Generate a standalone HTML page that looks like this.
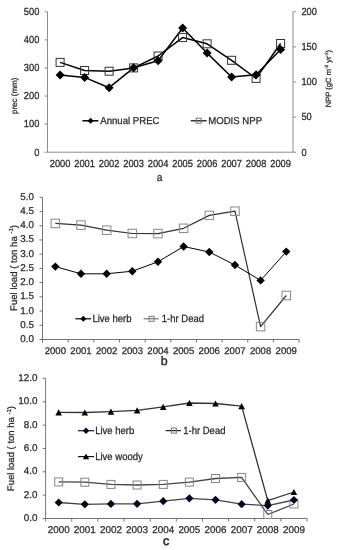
<!DOCTYPE html>
<html><head><meta charset="utf-8"><title>Fuel load and precipitation charts</title>
<style>
html,body{margin:0;padding:0;background:#fff;}
body{width:338px;height:550px;overflow:hidden;}
svg{display:block;font-family:"Liberation Sans", Arial, sans-serif;text-rendering:geometricPrecision;}
text{stroke:#2a2a2a;stroke-width:0.25px;}
</style></head>
<body>
<svg width="338" height="550" viewBox="0 0 338 550">
<rect width="338" height="550" fill="#fff"/>
<path d="M47.5 11.8V152.2" stroke="#8c8c8c" stroke-width="1"/>
<path d="M293 11.8V152.2" stroke="#8c8c8c" stroke-width="1"/>
<path d="M47.5 152.2H293" stroke="#8c8c8c" stroke-width="1"/>
<path d="M44.5 152.2H47.5" stroke="#8c8c8c" stroke-width="1"/>
<text transform="translate(39.3 155.5) scale(1 1.1)" font-size="9.3" text-anchor="end" fill="#2a2a2a">0</text>
<path d="M44.5 124.12H47.5" stroke="#8c8c8c" stroke-width="1"/>
<text transform="translate(39.3 127.42) scale(1 1.1)" font-size="9.3" text-anchor="end" fill="#2a2a2a">100</text>
<path d="M44.5 96.04H47.5" stroke="#8c8c8c" stroke-width="1"/>
<text transform="translate(39.3 99.34) scale(1 1.1)" font-size="9.3" text-anchor="end" fill="#2a2a2a">200</text>
<path d="M44.5 67.96H47.5" stroke="#8c8c8c" stroke-width="1"/>
<text transform="translate(39.3 71.26) scale(1 1.1)" font-size="9.3" text-anchor="end" fill="#2a2a2a">300</text>
<path d="M44.5 39.88H47.5" stroke="#8c8c8c" stroke-width="1"/>
<text transform="translate(39.3 43.18) scale(1 1.1)" font-size="9.3" text-anchor="end" fill="#2a2a2a">400</text>
<path d="M44.5 11.8H47.5" stroke="#8c8c8c" stroke-width="1"/>
<text transform="translate(39.3 15.1) scale(1 1.1)" font-size="9.3" text-anchor="end" fill="#2a2a2a">500</text>
<path d="M293 152.2H296" stroke="#8c8c8c" stroke-width="1"/>
<text transform="translate(301.4 155.5) scale(1 1.1)" font-size="9.3" fill="#2a2a2a">0</text>
<path d="M293 117.1H296" stroke="#8c8c8c" stroke-width="1"/>
<text transform="translate(301.4 120.4) scale(1 1.1)" font-size="9.3" fill="#2a2a2a">50</text>
<path d="M293 82H296" stroke="#8c8c8c" stroke-width="1"/>
<text transform="translate(301.4 85.3) scale(1 1.1)" font-size="9.3" fill="#2a2a2a">100</text>
<path d="M293 46.9H296" stroke="#8c8c8c" stroke-width="1"/>
<text transform="translate(301.4 50.2) scale(1 1.1)" font-size="9.3" fill="#2a2a2a">150</text>
<path d="M293 11.8H296" stroke="#8c8c8c" stroke-width="1"/>
<text transform="translate(301.4 15.1) scale(1 1.1)" font-size="9.3" fill="#2a2a2a">200</text>
<text transform="translate(60.1 166.6) scale(1 1.1)" font-size="9.3" text-anchor="middle" fill="#2a2a2a">2000</text>
<text transform="translate(84.6 166.6) scale(1 1.1)" font-size="9.3" text-anchor="middle" fill="#2a2a2a">2001</text>
<text transform="translate(109.1 166.6) scale(1 1.1)" font-size="9.3" text-anchor="middle" fill="#2a2a2a">2002</text>
<text transform="translate(133.6 166.6) scale(1 1.1)" font-size="9.3" text-anchor="middle" fill="#2a2a2a">2003</text>
<text transform="translate(158.1 166.6) scale(1 1.1)" font-size="9.3" text-anchor="middle" fill="#2a2a2a">2004</text>
<text transform="translate(182.6 166.6) scale(1 1.1)" font-size="9.3" text-anchor="middle" fill="#2a2a2a">2005</text>
<text transform="translate(207.1 166.6) scale(1 1.1)" font-size="9.3" text-anchor="middle" fill="#2a2a2a">2006</text>
<text transform="translate(231.6 166.6) scale(1 1.1)" font-size="9.3" text-anchor="middle" fill="#2a2a2a">2007</text>
<text transform="translate(256.1 166.6) scale(1 1.1)" font-size="9.3" text-anchor="middle" fill="#2a2a2a">2008</text>
<text transform="translate(280.6 166.6) scale(1 1.1)" font-size="9.3" text-anchor="middle" fill="#2a2a2a">2009</text>
<text transform="translate(159.6 181) scale(1 1.1)" font-size="10.2" text-anchor="middle" fill="#2a2a2a">a</text>
<text transform="translate(17 95.8) rotate(-90)" font-size="8" text-anchor="middle" fill="#2a2a2a">prec (mm)</text>
<text transform="translate(330.8 78.6) rotate(-90)" font-size="7.6" text-anchor="middle" fill="#2a2a2a">NPP (gC m<tspan font-size="4.6" dy="-2.8">-2</tspan><tspan dy="2.8"> yr</tspan><tspan font-size="4.6" dy="-2.8">-1</tspan><tspan dy="2.8">)</tspan></text>
<polyline points="60.1,62.4 84.6,70.5 109.1,71.2 133.6,67.9 158.1,56 182.6,37.6 207.1,43.8 231.6,60.3 256.1,78.4 280.6,43.5" fill="none" stroke="#000" stroke-width="1.5" stroke-linejoin="round"/>
<polyline points="60.1,74.9 84.6,77.4 109.1,87.7 133.6,67.8 158.1,60.8 182.6,28 207.1,53.1 231.6,77 256.1,74.8 280.6,49.5" fill="none" stroke="#000" stroke-width="1.5" stroke-linejoin="round"/>
<rect x="56.1" y="58.4" width="8" height="8" fill="none" stroke="#333" stroke-width="1"/>
<rect x="80.6" y="66.5" width="8" height="8" fill="none" stroke="#333" stroke-width="1"/>
<rect x="105.1" y="67.2" width="8" height="8" fill="none" stroke="#333" stroke-width="1"/>
<rect x="129.6" y="63.9" width="8" height="8" fill="none" stroke="#333" stroke-width="1"/>
<rect x="154.1" y="52" width="8" height="8" fill="none" stroke="#333" stroke-width="1"/>
<rect x="178.6" y="33.6" width="8" height="8" fill="none" stroke="#333" stroke-width="1"/>
<rect x="203.1" y="39.8" width="8" height="8" fill="none" stroke="#333" stroke-width="1"/>
<rect x="227.6" y="56.3" width="8" height="8" fill="none" stroke="#333" stroke-width="1"/>
<rect x="252.1" y="74.4" width="8" height="8" fill="none" stroke="#333" stroke-width="1"/>
<rect x="276.6" y="39.5" width="8" height="8" fill="none" stroke="#333" stroke-width="1"/>
<path d="M60.1 70.4L64.6 74.9L60.1 79.4L55.6 74.9Z" fill="#000"/>
<path d="M84.6 72.9L89.1 77.4L84.6 81.9L80.1 77.4Z" fill="#000"/>
<path d="M109.1 83.2L113.6 87.7L109.1 92.2L104.6 87.7Z" fill="#000"/>
<path d="M133.6 63.3L138.1 67.8L133.6 72.3L129.1 67.8Z" fill="#000"/>
<path d="M158.1 56.3L162.6 60.8L158.1 65.3L153.6 60.8Z" fill="#000"/>
<path d="M182.6 23.5L187.1 28L182.6 32.5L178.1 28Z" fill="#000"/>
<path d="M207.1 48.6L211.6 53.1L207.1 57.6L202.6 53.1Z" fill="#000"/>
<path d="M231.6 72.5L236.1 77L231.6 81.5L227.1 77Z" fill="#000"/>
<path d="M256.1 70.3L260.6 74.8L256.1 79.3L251.6 74.8Z" fill="#000"/>
<path d="M280.6 45L285.1 49.5L280.6 54L276.1 49.5Z" fill="#000"/>
<path d="M82.4 120.8H98.4" stroke="#000" stroke-width="1.5"/>
<path d="M90.6 117.8L93.6 120.8L90.6 123.8L87.6 120.8Z" fill="#000"/>
<text transform="translate(100.3 123.9) scale(1 1.04)" font-size="9.6" fill="#2a2a2a">Annual PREC</text>
<path d="M190.8 120.8H206.7" stroke="#000" stroke-width="1.2"/>
<rect x="196.2" y="118.2" width="5" height="5" fill="none" stroke="#777" stroke-width="1"/>
<text transform="translate(208.2 123.9) scale(1 1.04)" font-size="9.6" fill="#2a2a2a">MODIS NPP</text>
<path d="M42.5 197.3V339.5" stroke="#737373" stroke-width="1"/>
<path d="M42.5 339.5H299.1" stroke="#737373" stroke-width="1"/>
<path d="M39.5 339.5H42.5" stroke="#737373" stroke-width="1"/>
<text x="34" y="342" font-size="9.9" text-anchor="end" fill="#2a2a2a">0.0</text>
<path d="M39.5 325.28H42.5" stroke="#737373" stroke-width="1"/>
<text x="34" y="327.78" font-size="9.9" text-anchor="end" fill="#2a2a2a">0.5</text>
<path d="M39.5 311.06H42.5" stroke="#737373" stroke-width="1"/>
<text x="34" y="313.56" font-size="9.9" text-anchor="end" fill="#2a2a2a">1.0</text>
<path d="M39.5 296.84H42.5" stroke="#737373" stroke-width="1"/>
<text x="34" y="299.34" font-size="9.9" text-anchor="end" fill="#2a2a2a">1.5</text>
<path d="M39.5 282.62H42.5" stroke="#737373" stroke-width="1"/>
<text x="34" y="285.12" font-size="9.9" text-anchor="end" fill="#2a2a2a">2.0</text>
<path d="M39.5 268.4H42.5" stroke="#737373" stroke-width="1"/>
<text x="34" y="270.9" font-size="9.9" text-anchor="end" fill="#2a2a2a">2.5</text>
<path d="M39.5 254.18H42.5" stroke="#737373" stroke-width="1"/>
<text x="34" y="256.68" font-size="9.9" text-anchor="end" fill="#2a2a2a">3.0</text>
<path d="M39.5 239.96H42.5" stroke="#737373" stroke-width="1"/>
<text x="34" y="242.46" font-size="9.9" text-anchor="end" fill="#2a2a2a">3.5</text>
<path d="M39.5 225.74H42.5" stroke="#737373" stroke-width="1"/>
<text x="34" y="228.24" font-size="9.9" text-anchor="end" fill="#2a2a2a">4.0</text>
<path d="M39.5 211.52H42.5" stroke="#737373" stroke-width="1"/>
<text x="34" y="214.02" font-size="9.9" text-anchor="end" fill="#2a2a2a">4.5</text>
<path d="M39.5 197.3H42.5" stroke="#737373" stroke-width="1"/>
<text x="34" y="199.8" font-size="9.9" text-anchor="end" fill="#2a2a2a">5.0</text>
<path d="M42.5 339.5V342.5" stroke="#737373" stroke-width="1"/>
<path d="M68.16 339.5V342.5" stroke="#737373" stroke-width="1"/>
<path d="M93.82 339.5V342.5" stroke="#737373" stroke-width="1"/>
<path d="M119.48 339.5V342.5" stroke="#737373" stroke-width="1"/>
<path d="M145.14 339.5V342.5" stroke="#737373" stroke-width="1"/>
<path d="M170.8 339.5V342.5" stroke="#737373" stroke-width="1"/>
<path d="M196.46 339.5V342.5" stroke="#737373" stroke-width="1"/>
<path d="M222.12 339.5V342.5" stroke="#737373" stroke-width="1"/>
<path d="M247.78 339.5V342.5" stroke="#737373" stroke-width="1"/>
<path d="M273.44 339.5V342.5" stroke="#737373" stroke-width="1"/>
<path d="M299.1 339.5V342.5" stroke="#737373" stroke-width="1"/>
<text x="55.33" y="353.8" font-size="9.6" text-anchor="middle" fill="#2a2a2a">2000</text>
<text x="80.99" y="353.8" font-size="9.6" text-anchor="middle" fill="#2a2a2a">2001</text>
<text x="106.65" y="353.8" font-size="9.6" text-anchor="middle" fill="#2a2a2a">2002</text>
<text x="132.31" y="353.8" font-size="9.6" text-anchor="middle" fill="#2a2a2a">2003</text>
<text x="157.97" y="353.8" font-size="9.6" text-anchor="middle" fill="#2a2a2a">2004</text>
<text x="183.63" y="353.8" font-size="9.6" text-anchor="middle" fill="#2a2a2a">2005</text>
<text x="209.29" y="353.8" font-size="9.6" text-anchor="middle" fill="#2a2a2a">2006</text>
<text x="234.95" y="353.8" font-size="9.6" text-anchor="middle" fill="#2a2a2a">2007</text>
<text x="260.61" y="353.8" font-size="9.6" text-anchor="middle" fill="#2a2a2a">2008</text>
<text x="286.27" y="353.8" font-size="9.6" text-anchor="middle" fill="#2a2a2a">2009</text>
<text x="164.3" y="364.6" font-size="12.4" text-anchor="middle" fill="#2a2a2a" style="stroke-width:0.4px">b</text>
<text transform="translate(16.6 268) rotate(-90)" font-size="9.6" text-anchor="middle" fill="#2a2a2a">Fuel load ( ton ha <tspan font-size="6" dy="-3.5">-1</tspan><tspan dy="3.5">)</tspan></text>
<polyline points="55.33,223.4 80.99,225.1 106.65,230.2 132.31,233.5 157.97,233.6 183.63,228.3 209.29,215.4 234.95,211.2 260.61,326.6 286.27,295.5" fill="none" stroke="#333" stroke-width="1.2" stroke-linejoin="round"/>
<polyline points="55.33,266.6 80.99,273.8 106.65,273.8 132.31,271.2 157.97,261.8 183.63,246.5 209.29,252 234.95,265 260.61,280.4 286.27,251.6" fill="none" stroke="#000" stroke-width="1" stroke-linejoin="round"/>
<rect x="51.08" y="219.15" width="8.5" height="8.5" fill="none" stroke="#888" stroke-width="1"/>
<rect x="76.74" y="220.85" width="8.5" height="8.5" fill="none" stroke="#888" stroke-width="1"/>
<rect x="102.4" y="225.95" width="8.5" height="8.5" fill="none" stroke="#888" stroke-width="1"/>
<rect x="128.06" y="229.25" width="8.5" height="8.5" fill="none" stroke="#888" stroke-width="1"/>
<rect x="153.72" y="229.35" width="8.5" height="8.5" fill="none" stroke="#888" stroke-width="1"/>
<rect x="179.38" y="224.05" width="8.5" height="8.5" fill="none" stroke="#888" stroke-width="1"/>
<rect x="205.04" y="211.15" width="8.5" height="8.5" fill="none" stroke="#888" stroke-width="1"/>
<rect x="230.7" y="206.95" width="8.5" height="8.5" fill="none" stroke="#888" stroke-width="1"/>
<rect x="256.36" y="322.35" width="8.5" height="8.5" fill="none" stroke="#888" stroke-width="1"/>
<rect x="282.02" y="291.25" width="8.5" height="8.5" fill="none" stroke="#888" stroke-width="1"/>
<path d="M55.33 262.4L59.53 266.6L55.33 270.8L51.13 266.6Z" fill="#000"/>
<path d="M80.99 269.6L85.19 273.8L80.99 278L76.79 273.8Z" fill="#000"/>
<path d="M106.65 269.6L110.85 273.8L106.65 278L102.45 273.8Z" fill="#000"/>
<path d="M132.31 267L136.51 271.2L132.31 275.4L128.11 271.2Z" fill="#000"/>
<path d="M157.97 257.6L162.17 261.8L157.97 266L153.77 261.8Z" fill="#000"/>
<path d="M183.63 242.3L187.83 246.5L183.63 250.7L179.43 246.5Z" fill="#000"/>
<path d="M209.29 247.8L213.49 252L209.29 256.2L205.09 252Z" fill="#000"/>
<path d="M234.95 260.8L239.15 265L234.95 269.2L230.75 265Z" fill="#000"/>
<path d="M260.61 276.2L264.81 280.4L260.61 284.6L256.41 280.4Z" fill="#000"/>
<path d="M286.27 247.4L290.47 251.6L286.27 255.8L282.07 251.6Z" fill="#000"/>
<path d="M75.3 318.8H91" stroke="#000" stroke-width="1.2"/>
<path d="M83.3 315.8L86.3 318.8L83.3 321.8L80.3 318.8Z" fill="#000"/>
<text transform="translate(92.4 322.2) scale(1 1.1)" font-size="9.5" fill="#2a2a2a">Live herb</text>
<path d="M143.7 318.8H158.9" stroke="#555" stroke-width="1"/>
<rect x="149.1" y="316.3" width="5" height="5" fill="none" stroke="#777" stroke-width="1"/>
<text transform="translate(161.8 322.2) scale(1 1.1)" font-size="9.5" fill="#2a2a2a">1-hr Dead</text>
<path d="M45.6 378.4V518.5" stroke="#737373" stroke-width="1"/>
<path d="M45.6 518.5H307" stroke="#737373" stroke-width="1"/>
<path d="M42.6 518.5H45.6" stroke="#737373" stroke-width="1"/>
<text x="37.5" y="521" font-size="9.9" text-anchor="end" fill="#2a2a2a">0.0</text>
<path d="M42.6 495.15H45.6" stroke="#737373" stroke-width="1"/>
<text x="37.5" y="497.65" font-size="9.9" text-anchor="end" fill="#2a2a2a">2.0</text>
<path d="M42.6 471.8H45.6" stroke="#737373" stroke-width="1"/>
<text x="37.5" y="474.3" font-size="9.9" text-anchor="end" fill="#2a2a2a">4.0</text>
<path d="M42.6 448.45H45.6" stroke="#737373" stroke-width="1"/>
<text x="37.5" y="450.95" font-size="9.9" text-anchor="end" fill="#2a2a2a">6.0</text>
<path d="M42.6 425.1H45.6" stroke="#737373" stroke-width="1"/>
<text x="37.5" y="427.6" font-size="9.9" text-anchor="end" fill="#2a2a2a">8.0</text>
<path d="M42.6 401.75H45.6" stroke="#737373" stroke-width="1"/>
<text x="37.5" y="404.25" font-size="9.9" text-anchor="end" fill="#2a2a2a">10.0</text>
<path d="M42.6 378.4H45.6" stroke="#737373" stroke-width="1"/>
<text x="37.5" y="380.9" font-size="9.9" text-anchor="end" fill="#2a2a2a">12.0</text>
<path d="M45.6 518.5V521.5" stroke="#737373" stroke-width="1"/>
<path d="M71.74 518.5V521.5" stroke="#737373" stroke-width="1"/>
<path d="M97.88 518.5V521.5" stroke="#737373" stroke-width="1"/>
<path d="M124.02 518.5V521.5" stroke="#737373" stroke-width="1"/>
<path d="M150.16 518.5V521.5" stroke="#737373" stroke-width="1"/>
<path d="M176.3 518.5V521.5" stroke="#737373" stroke-width="1"/>
<path d="M202.44 518.5V521.5" stroke="#737373" stroke-width="1"/>
<path d="M228.58 518.5V521.5" stroke="#737373" stroke-width="1"/>
<path d="M254.72 518.5V521.5" stroke="#737373" stroke-width="1"/>
<path d="M280.86 518.5V521.5" stroke="#737373" stroke-width="1"/>
<path d="M307 518.5V521.5" stroke="#737373" stroke-width="1"/>
<text x="58.67" y="533.4" font-size="9.9" text-anchor="middle" fill="#2a2a2a">2000</text>
<text x="84.81" y="533.4" font-size="9.9" text-anchor="middle" fill="#2a2a2a">2001</text>
<text x="110.95" y="533.4" font-size="9.9" text-anchor="middle" fill="#2a2a2a">2002</text>
<text x="137.09" y="533.4" font-size="9.9" text-anchor="middle" fill="#2a2a2a">2003</text>
<text x="163.23" y="533.4" font-size="9.9" text-anchor="middle" fill="#2a2a2a">2004</text>
<text x="189.37" y="533.4" font-size="9.9" text-anchor="middle" fill="#2a2a2a">2005</text>
<text x="215.51" y="533.4" font-size="9.9" text-anchor="middle" fill="#2a2a2a">2006</text>
<text x="241.65" y="533.4" font-size="9.9" text-anchor="middle" fill="#2a2a2a">2007</text>
<text x="267.79" y="533.4" font-size="9.9" text-anchor="middle" fill="#2a2a2a">2008</text>
<text x="293.93" y="533.4" font-size="9.9" text-anchor="middle" fill="#2a2a2a">2009</text>
<text x="166.1" y="544.5" font-size="12.6" text-anchor="middle" fill="#2a2a2a" style="stroke-width:0.6px">c</text>
<text transform="translate(14 448.6) rotate(-90)" font-size="9.5" text-anchor="middle" fill="#2a2a2a">Fuel load ( ton ha <tspan font-size="6" dy="-3.5">-1</tspan><tspan dy="3.5">)</tspan></text>
<polyline points="58.67,412.3 84.81,412.5 110.95,411.6 137.09,410.4 163.23,406.8 189.37,403 215.51,403.5 241.65,406.1 267.79,500.6 293.93,492" fill="none" stroke="#333" stroke-width="1.3" stroke-linejoin="round"/>
<polyline points="58.67,481.9 84.81,482.2 110.95,484.4 137.09,485 163.23,484.4 189.37,482.1 215.51,478.5 241.65,477.4 267.79,514.5 293.93,504" fill="none" stroke="#444" stroke-width="1.3" stroke-linejoin="round"/>
<polyline points="58.67,502.5 84.81,504.3 110.95,503.9 137.09,503.8 163.23,501.2 189.37,498.3 215.51,499.8 241.65,504.2 267.79,505.6 293.93,500" fill="none" stroke="#444" stroke-width="1.3" stroke-linejoin="round"/>
<path d="M58.67 409.2L61.97 415.4L55.37 415.4Z" fill="#000"/>
<path d="M84.81 409.4L88.11 415.6L81.51 415.6Z" fill="#000"/>
<path d="M110.95 408.5L114.25 414.7L107.65 414.7Z" fill="#000"/>
<path d="M137.09 407.3L140.39 413.5L133.79 413.5Z" fill="#000"/>
<path d="M163.23 403.7L166.53 409.9L159.93 409.9Z" fill="#000"/>
<path d="M189.37 399.9L192.67 406.1L186.07 406.1Z" fill="#000"/>
<path d="M215.51 400.4L218.81 406.6L212.21 406.6Z" fill="#000"/>
<path d="M241.65 403L244.95 409.2L238.35 409.2Z" fill="#000"/>
<path d="M267.79 497.5L271.09 503.7L264.49 503.7Z" fill="#000"/>
<path d="M293.93 488.9L297.23 495.1L290.63 495.1Z" fill="#000"/>
<rect x="54.67" y="477.9" width="8" height="8" fill="none" stroke="#858585" stroke-width="1"/>
<rect x="80.81" y="478.2" width="8" height="8" fill="none" stroke="#858585" stroke-width="1"/>
<rect x="106.95" y="480.4" width="8" height="8" fill="none" stroke="#858585" stroke-width="1"/>
<rect x="133.09" y="481" width="8" height="8" fill="none" stroke="#858585" stroke-width="1"/>
<rect x="159.23" y="480.4" width="8" height="8" fill="none" stroke="#858585" stroke-width="1"/>
<rect x="185.37" y="478.1" width="8" height="8" fill="none" stroke="#858585" stroke-width="1"/>
<rect x="211.51" y="474.5" width="8" height="8" fill="none" stroke="#858585" stroke-width="1"/>
<rect x="237.65" y="473.4" width="8" height="8" fill="none" stroke="#858585" stroke-width="1"/>
<rect x="263.79" y="510.5" width="8" height="8" fill="none" stroke="#858585" stroke-width="1"/>
<rect x="289.93" y="500" width="8" height="8" fill="none" stroke="#858585" stroke-width="1"/>
<path d="M58.67 498.4L62.77 502.5L58.67 506.6L54.57 502.5Z" fill="#06061e"/>
<path d="M84.81 500.2L88.91 504.3L84.81 508.4L80.71 504.3Z" fill="#06061e"/>
<path d="M110.95 499.8L115.05 503.9L110.95 508L106.85 503.9Z" fill="#06061e"/>
<path d="M137.09 499.7L141.19 503.8L137.09 507.9L132.99 503.8Z" fill="#06061e"/>
<path d="M163.23 497.1L167.33 501.2L163.23 505.3L159.13 501.2Z" fill="#06061e"/>
<path d="M189.37 494.2L193.47 498.3L189.37 502.4L185.27 498.3Z" fill="#06061e"/>
<path d="M215.51 495.7L219.61 499.8L215.51 503.9L211.41 499.8Z" fill="#06061e"/>
<path d="M241.65 500.1L245.75 504.2L241.65 508.3L237.55 504.2Z" fill="#06061e"/>
<path d="M267.79 501.5L271.89 505.6L267.79 509.7L263.69 505.6Z" fill="#06061e"/>
<path d="M293.93 495.9L298.03 500L293.93 504.1L289.83 500Z" fill="#06061e"/>
<path d="M78 430.7H94" stroke="#14143a" stroke-width="1.2"/>
<path d="M86 427.5L89.2 430.7L86 433.9L82.8 430.7Z" fill="#06061e"/>
<text transform="translate(95.2 434.1) scale(1 1.1)" font-size="9.5" fill="#2a2a2a">Live herb</text>
<path d="M165.7 430.6H181" stroke="#222" stroke-width="1.2"/>
<rect x="171.4" y="428.1" width="5" height="5" fill="none" stroke="#777" stroke-width="1"/>
<text transform="translate(183.2 434.1) scale(1 1.1)" font-size="9.5" fill="#2a2a2a">1-hr Dead</text>
<path d="M78 456.6H94" stroke="#111" stroke-width="1.2"/>
<path d="M86 453.5L89.1 459.3L82.9 459.3Z" fill="#000"/>
<text transform="translate(95.2 460.1) scale(1 1.1)" font-size="9.5" fill="#2a2a2a">Live woody</text>
</svg>
</body></html>
